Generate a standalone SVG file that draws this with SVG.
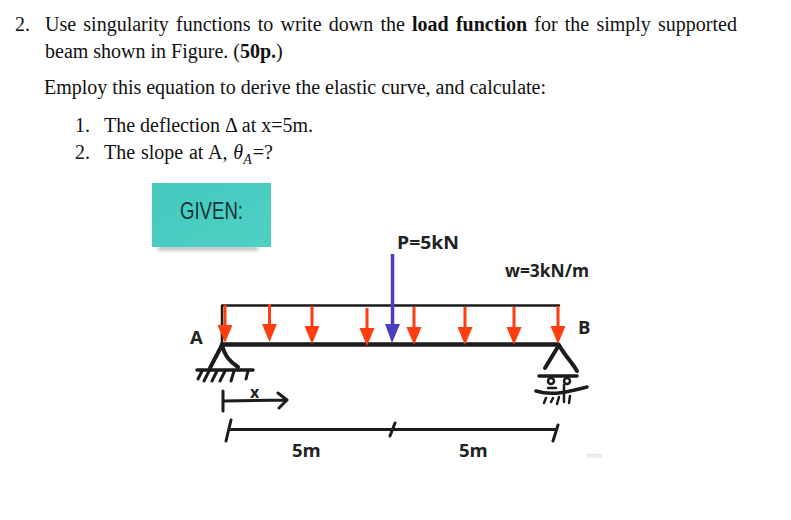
<svg xmlns="http://www.w3.org/2000/svg" width="791" height="520" viewBox="0 0 791 520">
<style>
.t{font-family:"Liberation Serif","Times New Roman",serif;font-size:20px;fill:#111}
.b{font-weight:bold}
.l{font-family:"Open Sans","Noto Sans",sans-serif;font-weight:700;font-size:18.500px;fill:#222}
.k{fill:none;stroke:#1c1c1c;stroke-linecap:round;stroke-linejoin:round}
.r{stroke:#ff3d0f;stroke-width:3}
.rh{fill:#ff3d0f}
</style>
<defs>
<linearGradient id="st" x1="0" y1="0" x2="1" y2="1"><stop offset="0" stop-color="#43c9be"/><stop offset="1" stop-color="#50d0c4"/></linearGradient>
<filter id="sh" x="-20%" y="-100%" width="140%" height="300%"><feGaussianBlur stdDeviation="2"/></filter>
<g id="ar"><path class="r" d="M0 -38V-15"/><path class="rh" d="M-7.500 -18H7.500L0 0Z"/></g>
</defs>
<rect width="791" height="520" fill="#fff"/>
<g id="question">
<text class="t" x="15" y="31">2.</text>
<text class="t" x="45" y="31" word-spacing="2.200">Use singularity functions to write down the <tspan class="b">load function</tspan> for the simply supported</text>
<text class="t" x="45" y="58">beam shown in Figure. (<tspan class="b">50p.</tspan>)</text>
<text class="t" x="44" y="94">Employ this equation to derive the elastic curve, and calculate:</text>
<text class="t" x="75" y="132">1.</text>
<text class="t" x="104" y="132">The deflection Δ at x=5m.</text>
<text class="t" x="75" y="159">2.</text>
<text class="t" x="104" y="159" word-spacing="0.800">The slope at A, <tspan font-style="italic">θ</tspan><tspan font-style="italic" font-size="14" dy="5">A</tspan><tspan dy="-5" dx="1">=?</tspan></text>
</g>
<g id="given">
<rect x="158" y="246" width="100" height="4" fill="#777" opacity=".6" filter="url(#sh)"/>
<rect x="152" y="183" width="119" height="64" fill="url(#st)"/>
<text x="180" y="219" font-family="'Liberation Sans',sans-serif" font-size="24" fill="#14343a" textLength="63" lengthAdjust="spacingAndGlyphs">GIVEN:</text>
</g>
<g id="beam">
<path class="k" stroke-width="2.500" d="M222 344V305.500H559"/>
<path class="k" stroke-width="4.500" d="M222 344.500H558"/>
</g>
<g id="distributed-load">
<use href="#ar" x="225" y="343"/>
<use href="#ar" x="269.500" y="342"/>
<use href="#ar" x="312" y="344"/>
<use href="#ar" x="367" y="346"/>
<use href="#ar" x="414" y="345"/>
<use href="#ar" x="465" y="345"/>
<use href="#ar" x="514" y="345"/>
<use href="#ar" x="558" y="344"/>
</g>
<g id="point-load">
<path d="M392.500 254V330" stroke="#4a3fc0" stroke-width="3.500"/>
<path d="M385 324H400L392 343Z" fill="#4a3fc0"/>
<text class="l" x="397" y="249" textLength="62" lengthAdjust="spacingAndGlyphs">P=5kN</text>
</g>
<text class="l" x="505" y="277" textLength="84" lengthAdjust="spacingAndGlyphs">w=3kN/m</text>
<g id="support-a">
<text class="l" x="190" y="344">A</text>
<path class="k" stroke-width="4" d="M222 345L210 368M222 345C225 356 229 361 238 367"/>
<path class="k" stroke-width="3.500" d="M197 370H253"/>
<path class="k" stroke-width="3" d="M202 371L198 379M209 371L204 381M217 371L212 381M225 371L220 381M234 371L231 381M248 371L246 379"/>
</g>
<g id="support-b">
<text class="l" x="578" y="334">B</text>
<path class="k" stroke-width="4" d="M559 345L545 368M559 345C565 356 572 362 577 371"/>
<path class="k" stroke-width="3.500" d="M539 376H577"/>
<circle cx="551" cy="381" r="3" class="k" stroke-width="2.500"/>
<circle cx="567" cy="381" r="3" class="k" stroke-width="2.500"/>
<path class="k" stroke-width="2.500" d="M548 388H556M564 385V402"/>
<path class="k" stroke-width="3.500" d="M536 391C552 396 568 392 587 387"/>
<path class="k" stroke-width="2.500" d="M544 403L546 398M551 402L553 398M557 404L559 397M569 403L570 396"/>
</g>
<g id="connectors">
<path class="k" stroke-width="3" d="M223 391V411M224 401L286 400M278 393L287 400L279 408"/>
<path class="k" stroke-width="3" d="M231 420L226 441M229 429.500H556M558 425L553 441M395 423L390 436"/>
</g>
<text class="l" x="250" y="398" style="font-size:16px">x</text>
<text class="l" x="292" y="457">5m</text>
<text class="l" x="459" y="457">5m</text>
<text x="587" y="458" font-family="'Open Sans',sans-serif" font-size="7" fill="#c8c8c8">miro</text>
</svg>
